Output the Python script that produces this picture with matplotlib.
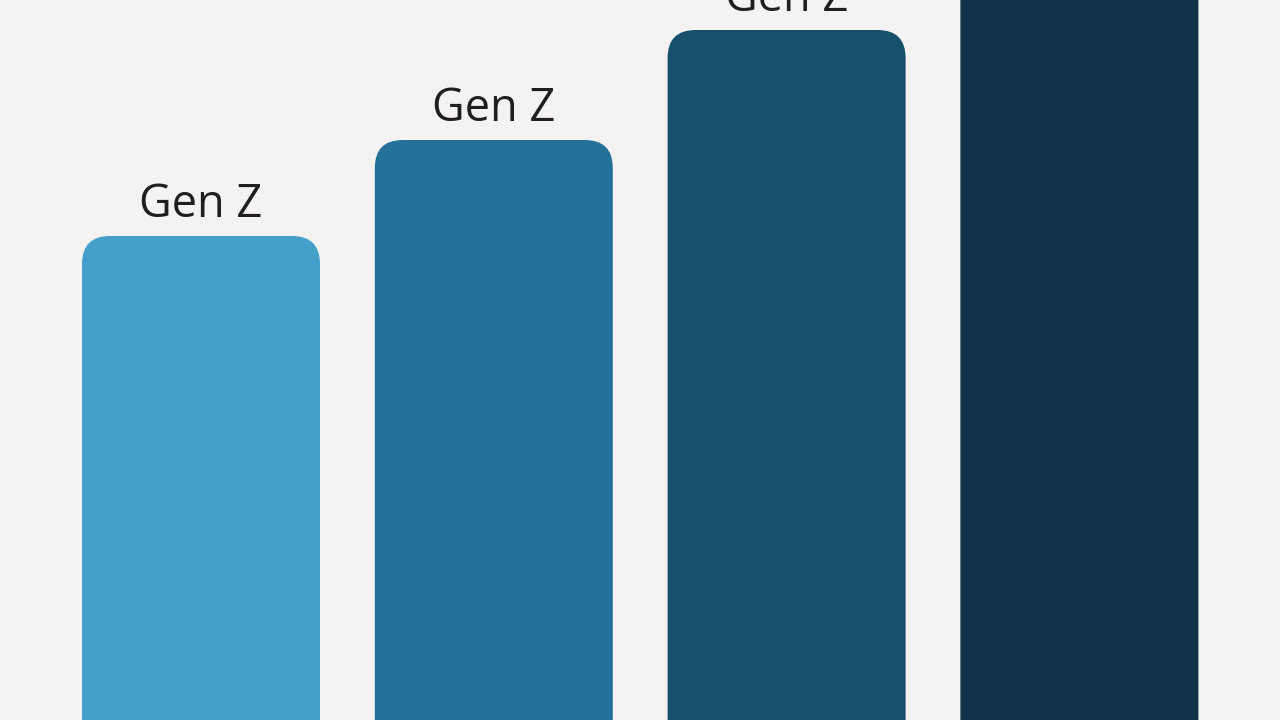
import matplotlib
matplotlib.use("Agg")
import matplotlib.pyplot as plt
from matplotlib.patches import FancyBboxPatch

categories = ["Gen Z", "Gen Z", "Gen Z", ""]
values = [484, 580, 690, 760]
colors = ["#459fcb", "#24729a", "#17506d", "#10334a"]

BG = "#f4f3f1"
fig = plt.figure(figsize=(12.8, 7.2), dpi=100, facecolor=BG)
ax = fig.add_axes([0, 0, 1, 1])
ax.set_facecolor(BG)

pitch = 292.8
ax.set_xlim(-201 / pitch, (1280 - 201) / pitch)
ax.set_ylim(0, 720)
ax.axis("off")

x = list(range(len(values)))
bars = ax.bar(x, [v + 40 for v in values], bottom=-40, width=238 / pitch, color=colors)

radius_px = 28
for b, c in zip(bars, colors):
    b.set_visible(False)
    p = FancyBboxPatch((b.get_x(), b.get_y()), b.get_width(), b.get_height(),
                       boxstyle=f"round,pad=0,rounding_size={radius_px / pitch}",
                       mutation_aspect=pitch, facecolor=c, edgecolor="none")
    ax.add_patch(p)

for xi, v, lab in zip(x, values, categories):
    if lab:
        ax.text(xi, v + 19, lab, ha="center", va="baseline",
                fontsize=32.5, fontweight="medium",
                family=["Open Sans", "DejaVu Sans"], color="#1f1f1f")

fig.savefig("out.png", dpi=100, facecolor=BG)
